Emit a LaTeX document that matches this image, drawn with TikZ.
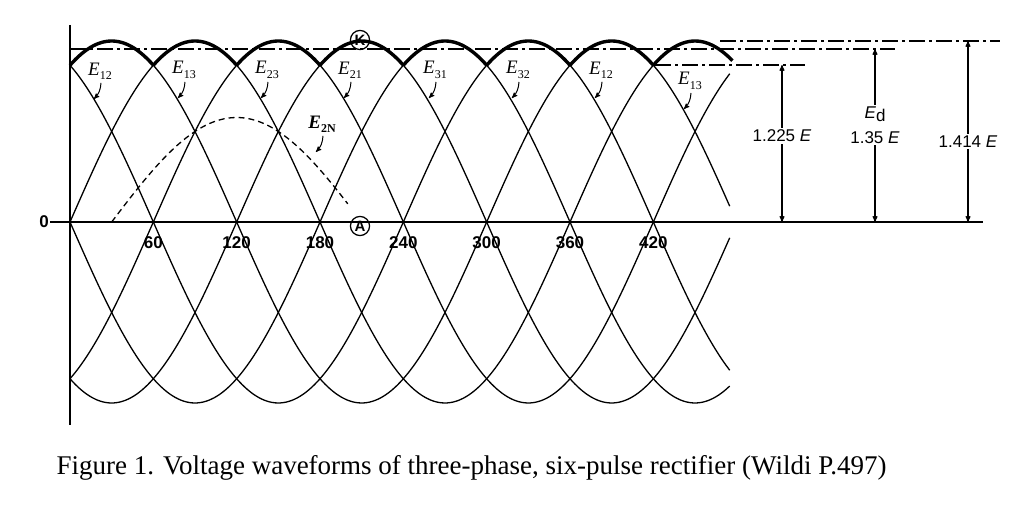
\documentclass[tikz,border=0pt]{standalone}
\usepackage{fontspec}
\setmainfont{Liberation Serif}
\setsansfont{Liberation Sans}
\usetikzlibrary{calc,arrows}

\begin{document}
\begin{tikzpicture}[
        %pixel like units, y runs down
        x=1pt, y=-1pt,
        axis/.style={line width=1.8pt},
        wave/.style={line width=1.3pt},
        envelope/.style={line width=3.4pt},
        dashdot line/.style={line width=1.3pt, dash pattern=on 16pt off 4pt on 3pt off 4pt},
        level arrow/.style={line width=1.1pt, <->, >=stealth'},
        every node/.style={color=black},
        wavelabel/.style={font=\fontsize{19}{22}\selectfont},
        ticklabel/.style={font=\sffamily\bfseries\fontsize{17}{20}\selectfont},
        levellabel/.style={fill=white, inner sep=2pt, font=\sffamily\fontsize{17}{21}\selectfont},
        pointmark/.style={circle, draw, line width=1.3pt, inner sep=1.5pt,
                          font=\sffamily\bfseries\fontsize{15}{18}\selectfont}
]
    \useasboundingbox (0,0) rectangle (1018,518);

    % Important coordinates are defined
    \coordinate (start) at (50,222);
    \coordinate (end) at (983,222);

    % axis
    \node[ticklabel] (zero) at (44,222) {0};
    \draw[axis] (start) -- (end);
    \draw[axis] (70,25) -- (70,425);

    % the six waves
    \foreach \k in {0,...,5}
        \draw[wave] plot[domain=0:475, samples=120, smooth]
            ({70+1.3889*\x}, {222-181*sin(\x-60*\k)});

    % E2N is dashed
    \draw[wave, dash pattern=on 6pt off 4pt] plot[domain=30:200, samples=60, smooth]
        ({70+1.3889*\x}, {222-104.5*sin(\x-30)});

    % the rectified envelope
    \foreach \j in {0,...,7}
        \draw[envelope] plot[domain={60*\j}:{min(60*\j+60,477)}, samples=30, smooth]
            ({70+1.3889*\x}, {222-181*sin(\x-60*\j+60)});

    % levels
    \draw[dashdot line] (720,41) -- (1000,41);
    \draw[dashdot line] (70,49) -- (895,49);
    \draw[dashdot line] (655,65) -- (805,65);

    \draw[level arrow] (782,65) -- (782,222)
        node[pos=0.45, levellabel] (lowlevel) {1.225 \textit{E}};
    \draw[level arrow] (875,49) -- (875,222);
    \node[levellabel, align=center] (edlevel) at (875,125)
        {\textit{E}\raisebox{-0.4ex}{d}\\[4pt]1.35 \textit{E}};
    \draw[level arrow] (968,41) -- (968,222)
        node[pos=0.5, levellabel, yshift=-10pt] (highlevel) {1.414 \textit{E}};

    % angles
    \foreach \a in {60,120,...,420}
        \node[ticklabel] (t\a) at ({70+1.3889*\a},243) {\a};

    % wave labels with little arrows
    \foreach \n/\lab/\px/\py in {a/12/100/71, b/13/184/70, c/23/267/70, d/21/350/70,
                                 e/31/435/70, f/32/518/70, g/12/601/70, h/13/690/81}{
        \node[wavelabel] (w\n) at (\px,\py) {\textit{E}\raisebox{-0.5ex}{\fontsize{12}{14}\selectfont\lab}};
        \draw[->, >=stealth', line width=1pt] ($(w\n.south)+(1,0)$) to[bend left=20] ++(-7,16);
    }
    \node[wavelabel] (e2n) at (322,124) {\textbf{\textit{E}\raisebox{-0.5ex}{\fontsize{12}{14}\selectfont 2N}}};
    \draw[->, >=stealth', line width=1pt] ($(e2n.south)+(1,0)$) to[bend left=20] ++(-7,16);

    % K and A
    \node[pointmark] (k) at (360,40) {K};
    \node[pointmark] (a) at (360,226) {A};

    % caption
    \node[font=\fontsize{27}{32}\selectfont, anchor=west] (caption) at (53,468)
        {Figure 1. Voltage waveforms of three-phase, six-pulse rectifier (Wildi P.497)};
\end{tikzpicture}
\end{document}
